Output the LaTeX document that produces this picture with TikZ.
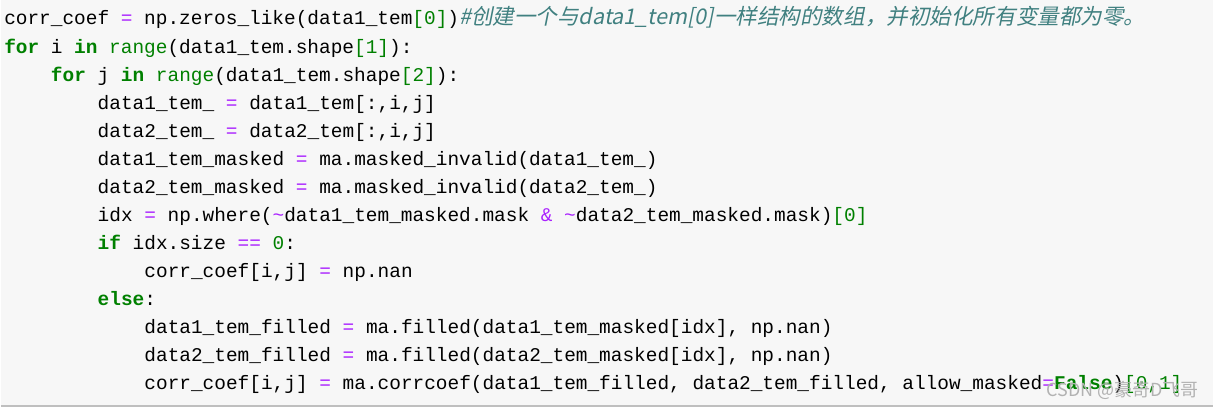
\documentclass[tikz,border=0pt]{standalone}
\usepackage{fontspec}
\setmonofont{Liberation Mono}
\newfontfamily\cjk[FakeSlant=0.2]{Noto Sans CJK SC}
\newfontfamily\cjkmark{Noto Sans CJK SC}
\definecolor{bgcol}{HTML}{F7F7F7}
\definecolor{kwcol}{HTML}{008000}
\definecolor{opcol}{HTML}{AA22FF}
\definecolor{cmcol}{HTML}{408080}
\newcommand{\kw}[1]{\textcolor{kwcol}{\textbf{#1}}}
\newcommand{\nm}[1]{\textcolor{kwcol}{#1}}
\newcommand{\op}[1]{\textcolor{opcol}{#1}}
\begin{document}
\begin{tikzpicture}[x=0.75pt,y=-0.75pt,
        code/.style={anchor=base west, inner sep=0pt, font=\ttfamily\fontsize{14.6}{17}\selectfont},
        watermark/.style={anchor=base east, inner sep=0pt, text=black!30, font=\cjkmark\fontsize{13.5}{16}\selectfont}
    ]
        % Background
        \fill[bgcol] (0,0) rectangle (1214,406);
        \draw[black!25, line width=1.5pt] (0,407) -- (1214,407);
        \useasboundingbox (0,0) rectangle (1214,408);

        % Code lines
        \node[code] (l1) at (3,25) {corr\_coef \op{=} np.zeros\_like(data1\_tem\nm{[0]})\textcolor{cmcol}{\cjk\fontsize{16.2}{18}\selectfont\#创建一个与data1\_tem[0]一样结构的数组，并初始化所有变量都为零。}};
        \node[code] (l2) at (3,53.1) {\kw{for} i \kw{in} \nm{range}(data1\_tem.shape\nm{[1]}):};
        \node[code] (l3) at (49.8,81.2) {\kw{for} j \kw{in} \nm{range}(data1\_tem.shape\nm{[2]}):};
        \node[code] (l4) at (96.6,109.3) {data1\_tem\_ \op{=} data1\_tem[:,i,j]};
        \node[code] (l5) at (96.6,137.4) {data2\_tem\_ \op{=} data2\_tem[:,i,j]};
        \node[code] (l6) at (96.6,165.5) {data1\_tem\_masked \op{=} ma.masked\_invalid(data1\_tem\_)};
        \node[code] (l7) at (96.6,193.6) {data2\_tem\_masked \op{=} ma.masked\_invalid(data2\_tem\_)};
        \node[code] (l8) at (96.6,221.7) {idx \op{=} np.where(\op{\textasciitilde}data1\_tem\_masked.mask \op{\&} \op{\textasciitilde}data2\_tem\_masked.mask)\nm{[0]}};
        \node[code] (l9) at (96.6,249.8) {\kw{if} idx.size \op{==} \nm{0}:};
        \node[code] (l10) at (143.4,277.9) {corr\_coef[i,j] \op{=} np.nan};
        \node[code] (l11) at (96.6,306) {\kw{else}:};
        \node[code] (l12) at (143.4,334.1) {data1\_tem\_filled \op{=} ma.filled(data1\_tem\_masked[idx], np.nan)};
        \node[code] (l13) at (143.4,362.2) {data2\_tem\_filled \op{=} ma.filled(data2\_tem\_masked[idx], np.nan)};
        \node[code] (l14) at (143.4,390.3) {corr\_coef[i,j] \op{=} ma.corrcoef(data1\_tem\_filled, data2\_tem\_filled, allow\_masked\op{=}\kw{False})\nm{[0,1]}};

        % Watermark
        \node[watermark] (wm) at (1200,397) {CSDN @豪奇D飞哥};
    \end{tikzpicture}
\end{document}
